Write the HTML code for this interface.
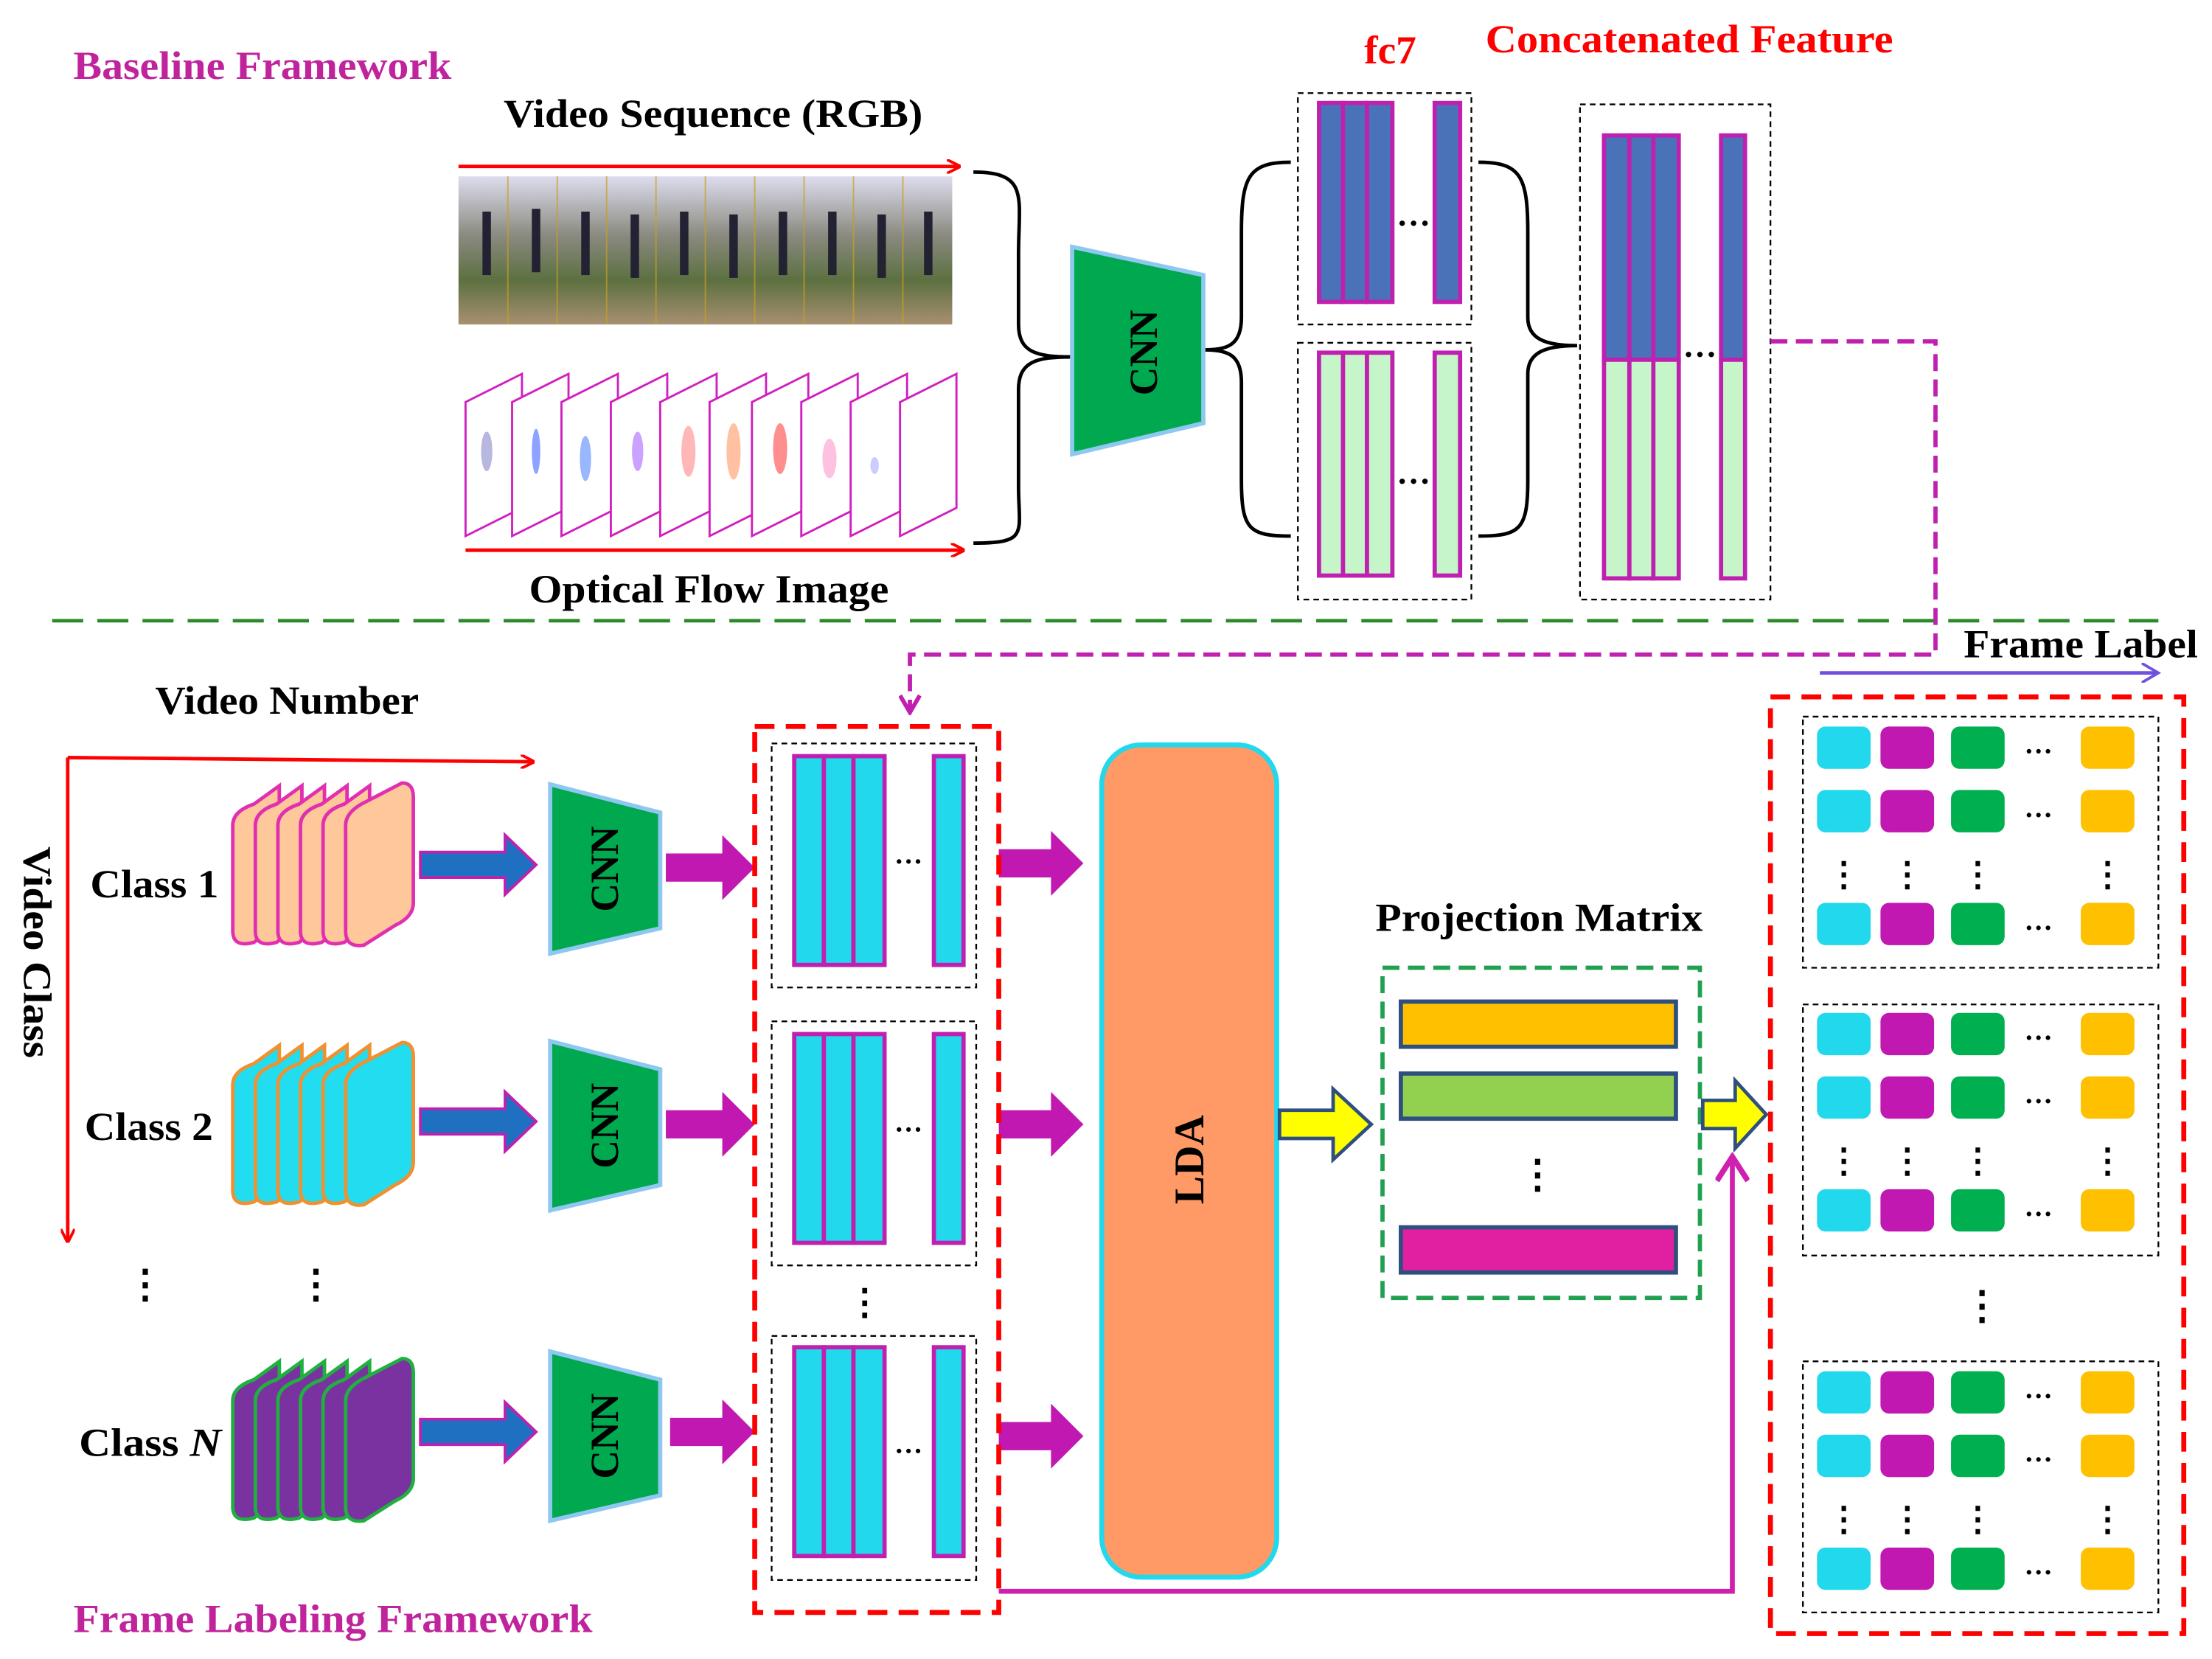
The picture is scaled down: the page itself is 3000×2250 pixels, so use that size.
<!DOCTYPE html>
<html><head><meta charset="utf-8"><style>
html,body{margin:0;padding:0;background:#fff}
svg{display:block}
text{font-family:"Liberation Serif",serif;font-weight:bold}
</style></head><body>
<svg width="3000" height="2250" viewBox="0 0 1568 1176" xmlns="http://www.w3.org/2000/svg">
<defs>
<marker id="ar" markerWidth="10" markerHeight="10" refX="9" refY="5" orient="auto" markerUnits="userSpaceOnUse"><path d="M0,0 L10,5 L0,10" fill="none" stroke="red" stroke-width="2"/></marker>
<marker id="ap" markerWidth="14" markerHeight="14" refX="12" refY="7" orient="auto" markerUnits="userSpaceOnUse"><path d="M0,0 L12,7 L0,14" fill="none" stroke="#7050e0" stroke-width="2"/></marker>
<marker id="am" markerWidth="16" markerHeight="16" refX="14" refY="8" orient="auto" markerUnits="userSpaceOnUse"><path d="M2,1 L14,8 L2,15" fill="none" stroke="#c020b0" stroke-width="3"/></marker>
<marker id="am2" markerWidth="24" markerHeight="24" refX="21" refY="12" orient="auto" markerUnits="userSpaceOnUse"><path d="M4,1 L21,12 L4,23" fill="none" stroke="#d020b0" stroke-width="4"/></marker>
<linearGradient id="vid" x1="0" y1="0" x2="0" y2="1"><stop offset="0" stop-color="#dde"/><stop offset="0.4" stop-color="#8a8a80"/><stop offset="0.7" stop-color="#5c7040"/><stop offset="1" stop-color="#a89070"/></linearGradient>
</defs>
<text x="52" y="56" font-size="28" fill="#c0249c" textLength="268" lengthAdjust="spacingAndGlyphs">Baseline Framework</text>
<text x="357" y="90" font-size="28" textLength="297" lengthAdjust="spacingAndGlyphs">Video Sequence (RGB)</text>
<line x1="325" y1="118" x2="680" y2="118" stroke="red" stroke-width="2.5" marker-end="url(#ar)"/>
<g>
<rect x="325" y="125" width="350" height="105" fill="url(#vid)"/>
<g stroke="#c8a020" stroke-width="1" opacity="0.7">
<line x1="360" y1="125" x2="360" y2="230"/><line x1="395" y1="125" x2="395" y2="230"/><line x1="430" y1="125" x2="430" y2="230"/><line x1="465" y1="125" x2="465" y2="230"/><line x1="500" y1="125" x2="500" y2="230"/><line x1="535" y1="125" x2="535" y2="230"/><line x1="570" y1="125" x2="570" y2="230"/><line x1="605" y1="125" x2="605" y2="230"/><line x1="640" y1="125" x2="640" y2="230"/>
</g>
<g fill="#223">
<rect x="342" y="150" width="6" height="45"/><rect x="377" y="148" width="6" height="45"/><rect x="412" y="150" width="6" height="45"/><rect x="447" y="152" width="6" height="45"/><rect x="482" y="150" width="6" height="45"/><rect x="517" y="152" width="6" height="45"/><rect x="552" y="150" width="6" height="45"/><rect x="587" y="150" width="6" height="45"/><rect x="622" y="152" width="6" height="45"/><rect x="655" y="150" width="6" height="45"/>
</g>
</g>
<g fill="#fff" stroke="#d020c0" stroke-width="1.5">
<path d="M330,285 L370,265 L370,360 L330,380Z"/><path d="M363,285 L403,265 L403,360 L363,380Z"/><path d="M398,285 L438,265 L438,360 L398,380Z"/><path d="M433,285 L473,265 L473,360 L433,380Z"/><path d="M468,285 L508,265 L508,360 L468,380Z"/><path d="M503,285 L543,265 L543,360 L503,380Z"/><path d="M533,285 L573,265 L573,360 L533,380Z"/><path d="M568,285 L608,265 L608,360 L568,380Z"/><path d="M603,285 L643,265 L643,360 L603,380Z"/><path d="M638,285 L678,265 L678,360 L638,380Z"/>
</g>
<g opacity="0.6">
<ellipse cx="345" cy="320" rx="4" ry="14" fill="#88c"/><ellipse cx="380" cy="320" rx="3" ry="16" fill="#46f"/><ellipse cx="415" cy="325" rx="4" ry="16" fill="#58f"/><ellipse cx="452" cy="320" rx="4" ry="14" fill="#a6f"/><ellipse cx="488" cy="320" rx="5" ry="18" fill="#f88"/><ellipse cx="520" cy="320" rx="5" ry="20" fill="#f96"/><ellipse cx="553" cy="318" rx="5" ry="18" fill="#f44"/><ellipse cx="588" cy="325" rx="5" ry="14" fill="#f9c"/><ellipse cx="620" cy="330" rx="3" ry="6" fill="#aaf"/>
</g>
<line x1="330" y1="390" x2="683" y2="390" stroke="red" stroke-width="2.5" marker-end="url(#ar)"/>
<text x="375" y="427" font-size="28" textLength="255" lengthAdjust="spacingAndGlyphs">Optical Flow Image</text>
<g fill="none" stroke="#000" stroke-width="2.5">
<path d="M690,122 C730,122 722,140 722,180 L722,230 C722,250 735,253 760,253 C735,253 722,256 722,276 L722,345 C722,378 730,385 690,385"/>
<path d="M915,115 C885,115 880,125 880,165 L880,225 C880,245 870,248 853,248 C870,248 880,251 880,271 L880,340 C880,375 885,380 915,380"/>
<path d="M1048,115 C1078,115 1083,125 1083,165 L1083,225 C1083,240 1095,245 1118,245 C1095,245 1083,250 1083,265 L1083,340 C1083,375 1078,380 1048,380"/>
</g>
<path d="M760,175 L853,195 L853,300 L760,322Z" fill="#00a84f" stroke="#8ec8f0" stroke-width="3"/>
<text transform="translate(820,250) rotate(-90)" font-size="28" text-anchor="middle">CNN</text>
<text x="967" y="45" font-size="28" fill="red" textLength="37" lengthAdjust="spacingAndGlyphs">fc7</text>
<text x="1053" y="37" font-size="28" fill="red" textLength="289" lengthAdjust="spacingAndGlyphs">Concatenated  Feature</text>
<g fill="none" stroke="#000" stroke-width="1.2" stroke-dasharray="4,3">
<rect x="920" y="66" width="123" height="164"/><rect x="920" y="243" width="123" height="182"/><rect x="1120" y="74" width="135" height="351"/>
</g>
<g stroke="#c020b0" stroke-width="3">
<g fill="#4a72b8"><rect x="935" y="73" width="17" height="141"/><rect x="952" y="73" width="17" height="141"/><rect x="969" y="73" width="18" height="141"/><rect x="1017" y="73" width="18" height="141"/></g>
<g fill="#c5f5c9"><rect x="935" y="250" width="17" height="158"/><rect x="952" y="250" width="17" height="158"/><rect x="969" y="250" width="18" height="158"/><rect x="1017" y="250" width="18" height="158"/></g>
<g fill="#4a72b8"><rect x="1137" y="96" width="18" height="159"/><rect x="1155" y="96" width="17" height="159"/><rect x="1172" y="96" width="18" height="159"/><rect x="1220" y="96" width="17" height="159"/></g>
<g fill="#c5f5c9"><rect x="1137" y="255" width="18" height="155"/><rect x="1155" y="255" width="17" height="155"/><rect x="1172" y="255" width="18" height="155"/><rect x="1220" y="255" width="17" height="155"/></g>
</g>
<text x="1002" y="160" font-size="24" text-anchor="middle">…</text>
<text x="1002" y="343" font-size="24" text-anchor="middle">…</text>
<text x="1205" y="253" font-size="24" text-anchor="middle">…</text>
<path d="M1255,242 L1372,242 L1372,464 L645,464 L645,505" fill="none" stroke="#c020b0" stroke-width="3" stroke-dasharray="12,6" marker-end="url(#am)"/>
<line x1="37" y1="440" x2="1530" y2="440" stroke="#2a8a2a" stroke-width="2.5" stroke-dasharray="22,10"/>
<text x="1392" y="466" font-size="28" textLength="166" lengthAdjust="spacingAndGlyphs">Frame Label</text>
<line x1="1290" y1="477" x2="1530" y2="477" stroke="#7050e0" stroke-width="2.5" marker-end="url(#ap)"/>
<text x="110" y="506" font-size="28" textLength="187" lengthAdjust="spacingAndGlyphs">Video Number</text>
<line x1="48" y1="537" x2="378" y2="540" stroke="red" stroke-width="2.5" marker-end="url(#ar)"/>
<line x1="48" y1="537" x2="48" y2="880" stroke="red" stroke-width="2.5" marker-end="url(#ar)"/>
<text transform="translate(17,600) rotate(90)" font-size="28" textLength="150" lengthAdjust="spacingAndGlyphs">Video Class</text>
<text x="64" y="636" font-size="28" textLength="91" lengthAdjust="spacingAndGlyphs">Class 1</text>
<text x="60" y="808" font-size="28" textLength="91" lengthAdjust="spacingAndGlyphs">Class 2</text>
<text x="56" y="1032" font-size="28" textLength="101" lengthAdjust="spacingAndGlyphs">Class <tspan font-style="italic">N</tspan></text>
<text x="103" y="920" font-size="28" text-anchor="middle">⋮</text>
<text x="224" y="920" font-size="28" text-anchor="middle">⋮</text>
<g fill="#ffc89a" stroke="#e030b0" stroke-width="2.5">
<path d="M165,585 Q165,575 180,570 L198,557 L198,655 L180,668 Q165,672 165,660Z"/>
<path d="M181,585 Q181,575 196,570 L214,557 L214,655 L196,668 Q181,672 181,660Z"/>
<path d="M197,585 Q197,575 212,570 L230,557 L230,655 L212,668 Q197,672 197,660Z"/>
<path d="M213,585 Q213,575 228,570 L246,557 L246,655 L228,668 Q213,672 213,660Z"/>
<path d="M229,585 Q229,575 244,570 L262,557 L262,655 L244,668 Q229,672 229,660Z"/>
<path d="M245,585 Q245,575 260,568 L285,555 Q293,555 293,565 L293,640 Q293,650 280,656 L258,670 Q245,672 245,660Z"/>
</g>
<g transform="translate(0,184)" fill="#22ddf0" stroke="#f09030" stroke-width="2.5">
<path d="M165,585 Q165,575 180,570 L198,557 L198,655 L180,668 Q165,672 165,660Z"/>
<path d="M181,585 Q181,575 196,570 L214,557 L214,655 L196,668 Q181,672 181,660Z"/>
<path d="M197,585 Q197,575 212,570 L230,557 L230,655 L212,668 Q197,672 197,660Z"/>
<path d="M213,585 Q213,575 228,570 L246,557 L246,655 L228,668 Q213,672 213,660Z"/>
<path d="M229,585 Q229,575 244,570 L262,557 L262,655 L244,668 Q229,672 229,660Z"/>
<path d="M245,585 Q245,575 260,568 L285,555 Q293,555 293,565 L293,640 Q293,650 280,656 L258,670 Q245,672 245,660Z"/>
</g>
<g transform="translate(0,408)" fill="#7a32a0" stroke="#20b040" stroke-width="2.5">
<path d="M165,585 Q165,575 180,570 L198,557 L198,655 L180,668 Q165,672 165,660Z"/>
<path d="M181,585 Q181,575 196,570 L214,557 L214,655 L196,668 Q181,672 181,660Z"/>
<path d="M197,585 Q197,575 212,570 L230,557 L230,655 L212,668 Q197,672 197,660Z"/>
<path d="M213,585 Q213,575 228,570 L246,557 L246,655 L228,668 Q213,672 213,660Z"/>
<path d="M229,585 Q229,575 244,570 L262,557 L262,655 L244,668 Q229,672 229,660Z"/>
<path d="M245,585 Q245,575 260,568 L285,555 Q293,555 293,565 L293,640 Q293,650 280,656 L258,670 Q245,672 245,660Z"/>
</g>
<g fill="#1f70c0" stroke="#c020b0" stroke-width="2">
<path d="M298,604 L358,604 L358,592 L380,613 L358,634 L358,622 L298,622Z"/>
<path d="M298,786 L358,786 L358,774 L380,795 L358,816 L358,804 L298,804Z"/>
<path d="M298,1006 L358,1006 L358,994 L380,1015 L358,1036 L358,1024 L298,1024Z"/>
</g>
<g fill="#00a84f" stroke="#8ec8f0" stroke-width="3">
<path d="M390,556 L468,576 L468,658 L390,676Z"/>
<path d="M390,738 L468,758 L468,840 L390,858Z"/>
<path d="M390,958 L468,978 L468,1060 L390,1078Z"/>
</g>
<text transform="translate(438,616) rotate(-90)" font-size="28" text-anchor="middle">CNN</text>
<text transform="translate(438,798) rotate(-90)" font-size="28" text-anchor="middle">CNN</text>
<text transform="translate(438,1018) rotate(-90)" font-size="28" text-anchor="middle">CNN</text>
<g fill="#c018b0">
<path d="M472,605 L512,605 L512,592 L535,615 L512,638 L512,625 L472,625Z"/>
<path d="M472,787 L512,787 L512,774 L535,797 L512,820 L512,807 L472,807Z"/>
<path d="M475,1005 L512,1005 L512,992 L535,1015 L512,1038 L512,1025 L475,1025Z"/>
<path d="M708,602 L745,602 L745,589 L768,612 L745,635 L745,622 L708,622Z"/>
<path d="M708,787 L745,787 L745,774 L768,797 L745,820 L745,807 L708,807Z"/>
<path d="M708,1008 L745,1008 L745,995 L768,1018 L745,1041 L745,1028 L708,1028Z"/>
</g>
<rect x="535" y="515" width="173" height="628" fill="none" stroke="red" stroke-width="3.5" stroke-dasharray="14,8"/>
<g fill="none" stroke="#000" stroke-width="1.2" stroke-dasharray="4,3">
<rect x="547" y="527" width="145" height="173"/><rect x="547" y="724" width="145" height="173"/><rect x="547" y="947" width="145" height="173"/>
</g>
<g fill="#22d8ec" stroke="#c020b0" stroke-width="3">
<rect x="563" y="536" width="21" height="148"/><rect x="584" y="536" width="21" height="148"/><rect x="605" y="536" width="22" height="148"/><rect x="662" y="536" width="21" height="148"/>
<rect x="563" y="733" width="21" height="148"/><rect x="584" y="733" width="21" height="148"/><rect x="605" y="733" width="22" height="148"/><rect x="662" y="733" width="21" height="148"/>
<rect x="563" y="955" width="21" height="148"/><rect x="584" y="955" width="21" height="148"/><rect x="605" y="955" width="22" height="148"/><rect x="662" y="955" width="21" height="148"/>
</g>
<text x="644" y="612" font-size="20" text-anchor="middle">…</text>
<text x="644" y="802" font-size="20" text-anchor="middle">…</text>
<text x="644" y="1030" font-size="20" text-anchor="middle">…</text>
<text x="613" y="932" font-size="26" text-anchor="middle">⋮</text>
<rect x="781" y="528" width="124" height="590" rx="28" fill="#ff9966" stroke="#22d8ec" stroke-width="3.5"/>
<text transform="translate(853,822) rotate(-90)" font-size="30" text-anchor="middle">LDA</text>
<path d="M907,787 L945,787 L945,772 L972,797 L945,822 L945,807 L907,807Z" fill="#ffff00" stroke="#2f4f7f" stroke-width="2.5"/>
<text x="975" y="660" font-size="28" textLength="232" lengthAdjust="spacingAndGlyphs">Projection Matrix</text>
<rect x="980" y="686" width="225" height="234" fill="none" stroke="#20a050" stroke-width="3" stroke-dasharray="12,6"/>
<g stroke="#2f4f7f" stroke-width="3">
<rect x="993" y="710" width="195" height="32" fill="#ffc000"/>
<rect x="993" y="761" width="195" height="32" fill="#92d050"/>
<rect x="993" y="870" width="195" height="32" fill="#e020a0"/>
</g>
<text x="1090" y="842" font-size="28" text-anchor="middle">⋮</text>
<path d="M1207,780 L1230,780 L1230,766 L1252,790 L1230,814 L1230,800 L1207,800Z" fill="#ffff00" stroke="#2f4f7f" stroke-width="2.5"/>
<path d="M708,1128 L1228,1128 L1228,820" fill="none" stroke="#d020b0" stroke-width="3.5" marker-end="url(#am2)"/>
<rect x="1255" y="494" width="293" height="664" fill="none" stroke="red" stroke-width="3.5" stroke-dasharray="14,8"/>
<g fill="none" stroke="#000" stroke-width="1.2" stroke-dasharray="4,3">
<rect x="1278" y="508" width="252" height="178"/><rect x="1278" y="712" width="252" height="178"/><rect x="1278" y="965" width="252" height="178"/>
</g>
<g id="rows">
<rect x="1288" y="515" width="38" height="30" rx="6" fill="#22d8ec"/><rect x="1333" y="515" width="38" height="30" rx="6" fill="#c018b0"/><rect x="1383" y="515" width="38" height="30" rx="6" fill="#00b050"/><rect x="1475" y="515" width="38" height="30" rx="6" fill="#ffc000"/>
<rect x="1288" y="560" width="38" height="30" rx="6" fill="#22d8ec"/><rect x="1333" y="560" width="38" height="30" rx="6" fill="#c018b0"/><rect x="1383" y="560" width="38" height="30" rx="6" fill="#00b050"/><rect x="1475" y="560" width="38" height="30" rx="6" fill="#ffc000"/>
<rect x="1288" y="640" width="38" height="30" rx="6" fill="#22d8ec"/><rect x="1333" y="640" width="38" height="30" rx="6" fill="#c018b0"/><rect x="1383" y="640" width="38" height="30" rx="6" fill="#00b050"/><rect x="1475" y="640" width="38" height="30" rx="6" fill="#ffc000"/>
<text x="1445" y="534" font-size="20" text-anchor="middle">…</text><text x="1445" y="579" font-size="20" text-anchor="middle">…</text><text x="1445" y="659" font-size="20" text-anchor="middle">…</text>
<text x="1307" y="628" font-size="24" text-anchor="middle">⋮</text><text x="1352" y="628" font-size="24" text-anchor="middle">⋮</text><text x="1402" y="628" font-size="24" text-anchor="middle">⋮</text><text x="1494" y="628" font-size="24" text-anchor="middle">⋮</text>
</g>
<use href="#rows" transform="translate(0,203)"/>
<use href="#rows" transform="translate(0,457)"/>
<text x="1405" y="935" font-size="28" text-anchor="middle">⋮</text>
<text x="52" y="1157" font-size="28" fill="#c0249c" textLength="368" lengthAdjust="spacingAndGlyphs">Frame Labeling Framework</text>
</svg>
</body></html>
